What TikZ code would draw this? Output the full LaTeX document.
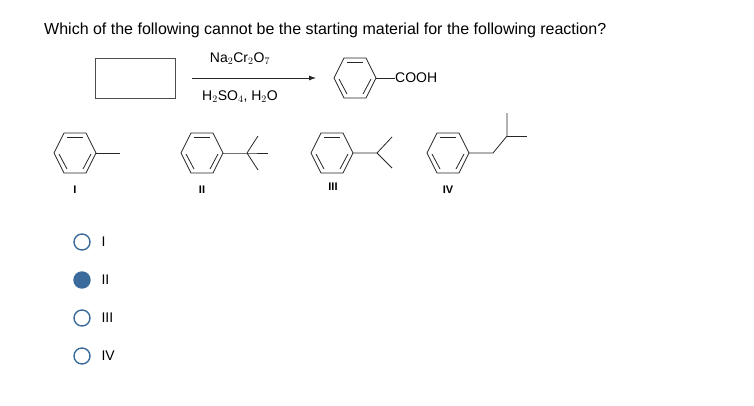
\documentclass[tikz,border=0pt]{standalone}
\usepackage{fontspec}
\usetikzlibrary{arrows.meta}
\setmainfont{Liberation Sans}
\definecolor{optblue}{HTML}{3A6B9A}
\begin{document}
\begin{tikzpicture}[x=1pt,y=-1pt,
  bond/.style={line width=0.8pt,draw=black!85},
  lbl/.style={font=\fontsize{11}{12}\selectfont\bfseries},
  chem/.style={font=\fontsize{14}{16}\selectfont},
  opt/.style={circle,draw=optblue,line width=1.4pt,minimum size=16pt,inner sep=0pt},
  optt/.style={font=\fontsize{14}{16}\selectfont,anchor=west}]
\useasboundingbox (0,0) rectangle (754,405);
\newcommand{\ring}[3]{%
  \coordinate (#3) at (#1,#2);
  \coordinate (#3r) at (#1+21,#2);
  \draw[bond] (#1-21,#2) -- (#1-11,#2-20) -- (#1+11,#2-20) -- (#1+21,#2) -- (#1+11,#2+20) -- (#1-11,#2+20) -- cycle;
  \draw[bond] (#1-8,#2-16) -- (#1+8,#2-16);
  \draw[bond] (#1-16,#2+1) -- (#1-8,#2+16);
  \draw[bond] (#1+16,#2+1) -- (#1+8,#2+16);
}
\node[anchor=west,inner sep=0pt,font=\fontsize{16}{18}\selectfont] (q) at (44,30) {Which of the following cannot be the starting material for the following reaction?};
\node[draw=black!70,line width=0.8pt,minimum width=80pt,minimum height=40pt,inner sep=0pt] (box) at (135,78) {};
\coordinate (a1) at (192,78); \coordinate (a2) at (316,78);
\draw[bond,-{Latex[length=7pt,width=5pt]}] (a1) -- (a2);
\node[chem] (r1) at (240,59) {Na$_2$Cr$_2$O$_7$};
\node[chem] (r2) at (240,97) {H$_2$SO$_4$, H$_2$O};
\ring{355}{78}{p}
\node[chem,anchor=west,inner sep=0pt] (cooh) at (395,78) {COOH};
\draw[bond] (pr) -- (cooh.west);
\ring{75}{153}{A}
\coordinate (A1) at (120,153);
\draw[bond] (Ar) -- (A1);
\ring{202}{153}{B}
\coordinate (B1) at (247,153); \coordinate (B2) at (268,153);
\coordinate (B3) at (258,136); \coordinate (B4) at (258,170);
\draw[bond] (Br) -- (B1) -- (B2); \draw[bond] (B3) -- (B1) -- (B4);
\ring{332}{153}{C}
\coordinate (C1) at (377,153); \coordinate (C2) at (392,137); \coordinate (C3) at (392,168);
\draw[bond] (Cr) -- (C1) -- (C2); \draw[bond] (C1) -- (C3);
\ring{448}{153}{D}
\coordinate (D1) at (493,153); \coordinate (D2) at (507,136);
\coordinate (D3) at (507,113); \coordinate (D4) at (527,136);
\draw[bond] (Dr) -- (D1) -- (D2) -- (D3); \draw[bond] (D2) -- (D4);
\node[lbl] (l1) at (75,190) {I};
\node[lbl] (l2) at (202,190) {II};
\node[lbl] (l3) at (333,187) {III};
\node[lbl] (l4) at (448,190) {IV};
\node[opt] (o1) at (82,242) {};
\node[opt,fill=optblue] (o2) at (82,280) {};
\node[opt] (o3) at (82,318) {};
\node[opt] (o4) at (82,356) {};
\node[optt] (t1) at (98,242) {I};
\node[optt] (t2) at (98,280) {II};
\node[optt] (t3) at (98,318) {III};
\node[optt] (t4) at (98,356) {IV};
\end{tikzpicture}
\end{document}
